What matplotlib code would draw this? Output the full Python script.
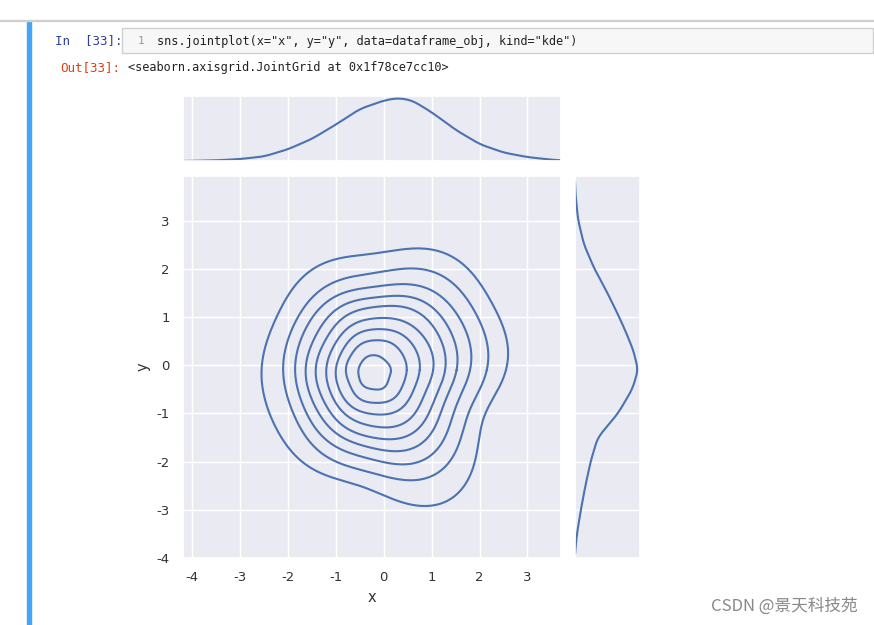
import numpy as np
import matplotlib.pyplot as plt
import seaborn as sns
from matplotlib.patches import Rectangle

sns.set_theme(style="darkgrid")
plt.rcParams['font.family'] = ['DejaVu Sans', 'Noto Sans CJK SC']
plt.rcParams['axes.unicode_minus'] = False

# contour radii at 12 angles (0, 30, ... 330 deg), outer to inner
angles_deg = [0, 30, 60, 90, 120, 150, 180, 210, 240, 270, 300, 330]
contour_radii = [
    [2.55, 2.65, 2.75, 2.45, 2.55, 2.50, 2.55, 2.55, 2.50, 2.60, 3.00, 2.35],
    [2.15, 2.25, 2.30, 2.05, 2.10, 2.10, 2.10, 2.10, 2.15, 2.20, 2.40, 2.00],
    [1.85, 1.95, 1.95, 1.75, 1.80, 1.80, 1.80, 1.80, 1.85, 1.90, 2.05, 1.75],
    [1.60, 1.68, 1.68, 1.52, 1.55, 1.52, 1.55, 1.55, 1.60, 1.65, 1.75, 1.52],
    [1.38, 1.44, 1.44, 1.32, 1.32, 1.28, 1.32, 1.32, 1.38, 1.42, 1.48, 1.32],
    [1.15, 1.18, 1.15, 1.08, 1.08, 1.05, 1.08, 1.10, 1.15, 1.18, 1.22, 1.10],
    [0.90, 0.92, 0.90, 0.85, 0.85, 0.82, 0.85, 0.88, 0.92, 0.92, 0.95, 0.88],
    [0.65, 0.65, 0.65, 0.62, 0.62, 0.60, 0.62, 0.62, 0.68, 0.68, 0.70, 0.65],
    [0.35, 0.33, 0.32, 0.33, 0.33, 0.32, 0.33, 0.35, 0.38, 0.38, 0.40, 0.35],
]
contour_cx = [0.0, 0.0, -0.05, -0.08, -0.1, -0.12, -0.15, -0.17, -0.2]
contour_cy = [-0.1, -0.1, -0.1, -0.1, -0.1, -0.1, -0.1, -0.1, -0.12]

# marginal densities (relative heights)
mx = [-4.2, -3.5, -3.0, -2.5, -2.0, -1.5, -1.0, -0.5, 0.0, 0.3, 0.6, 1.0, 1.5, 2.0, 2.5, 3.0, 3.5, 3.7]
mx_d = [0.0, 0.01, 0.03, 0.07, 0.18, 0.34, 0.56, 0.80, 0.93, 0.97, 0.93, 0.75, 0.48, 0.26, 0.13, 0.06, 0.02, 0.01]
my = [-3.9, -3.5, -3.0, -2.5, -2.0, -1.5, -1.0, -0.5, -0.1, 0.3, 0.7, 1.0, 1.5, 2.0, 2.5, 3.0, 3.5, 3.8]
my_d = [0.0, 0.03, 0.09, 0.16, 0.24, 0.35, 0.66, 0.88, 0.97, 0.90, 0.78, 0.68, 0.50, 0.30, 0.14, 0.05, 0.01, 0.0]

color = "#4c72b0"
W, H = 874, 625
fig = plt.figure(figsize=(8.74, 6.25), dpi=100)


def ax_px(x0, y0, x1, y1):
    return fig.add_axes([x0 / W, 1 - y1 / H, (x1 - x0) / W, (y1 - y0) / H])


def smooth(xs, ys, n=400):
    xs = np.asarray(xs); ys = np.asarray(ys)
    fine = np.linspace(xs[0], xs[-1], n)
    out = np.interp(fine, xs, ys)
    k = np.ones(15) / 15
    pad = np.pad(out, 7, mode="edge")
    return fine, np.convolve(pad, k, mode="valid")


xlim = (-4.19, 3.7)
ylim = (-4.0, 3.93)

ax = ax_px(183, 176, 561, 558)
th = np.linspace(0, 2 * np.pi, 400)
for radii, cx, cy in zip(contour_radii, contour_cx, contour_cy):
    c = np.fft.rfft(radii) / len(radii)
    r = np.full_like(th, c[0].real)
    for k in range(1, len(c)):
        f = 1 if k == len(radii) // 2 else 2
        r += f * (c[k].real * np.cos(k * th) - c[k].imag * np.sin(k * th))
    ax.plot(cx + r * np.cos(th), cy + r * np.sin(th), color=color, lw=1.5)
ax.set_xlim(xlim); ax.set_ylim(ylim)
ax.set_xticks(range(-4, 4)); ax.set_yticks(range(-4, 4))
ax.tick_params(labelsize=9.5, labelcolor="#333333")
ax.set_xlabel("x", fontsize=10.5, color="#333333")
ax.set_ylabel("y", fontsize=10.5, color="#333333")

axt = ax_px(183, 96, 561, 161)
fx, fy = smooth(mx, mx_d)
axt.plot(fx, fy, color=color, lw=1.5)
axt.set_xlim(xlim); axt.set_ylim(0, 1.0)
axt.set_xticks(range(-4, 4)); axt.set_yticks([])
axt.tick_params(labelbottom=False)

axr = ax_px(575, 176, 640, 558)
gy, gx = smooth(my, my_d)
axr.plot(gx, gy, color=color, lw=1.5)
axr.set_ylim(ylim); axr.set_xlim(0, 1.0)
axr.set_yticks(range(-4, 4)); axr.set_xticks([])
axr.tick_params(labelleft=False)

# notebook chrome
fig.patches.append(Rectangle((27 / W, 0), 4 / W, 1 - 22 / H, transform=fig.transFigure,
                             color="#42a5f5", zorder=0))
fig.patches.append(Rectangle((0, 1 - 21 / H), 1, 1 / H, transform=fig.transFigure,
                             color="#cfcfcf", zorder=0))
fig.patches.append(Rectangle((122 / W, 1 - 53 / H), 751 / W, 25 / H, transform=fig.transFigure,
                             facecolor="#f7f7f7", edgecolor="#cfcfcf", lw=1, zorder=0))
fig.text(55 / W, 1 - 41 / H, "In  [33]:", color="#303f9f", fontsize=9,
         family="DejaVu Sans Mono", va="center")
fig.text(138 / W, 1 - 41 / H, "1", color="#999999", fontsize=8,
         family="DejaVu Sans Mono", va="center")
fig.text(157 / W, 1 - 41 / H, 'sns.jointplot(x="x", y="y", data=dataframe_obj, kind="kde")',
         color="#222222", fontsize=8.6, family="DejaVu Sans Mono", va="center")
fig.text(60 / W, 1 - 68 / H, "Out[33]:", color="#d84315", fontsize=9,
         family="DejaVu Sans Mono", va="center")
fig.text(128 / W, 1 - 68 / H, "<seaborn.axisgrid.JointGrid at 0x1f78ce7cc10>",
         color="#222222", fontsize=8.6, family="DejaVu Sans Mono", va="center")
fig.text(858 / W, 1 - 606 / H, "CSDN @景天科技苑", color="#888888", fontsize=12,
         family=["Noto Sans CJK SC", "DejaVu Sans"], ha="right", va="center")

fig.savefig("out.png", dpi=100)
